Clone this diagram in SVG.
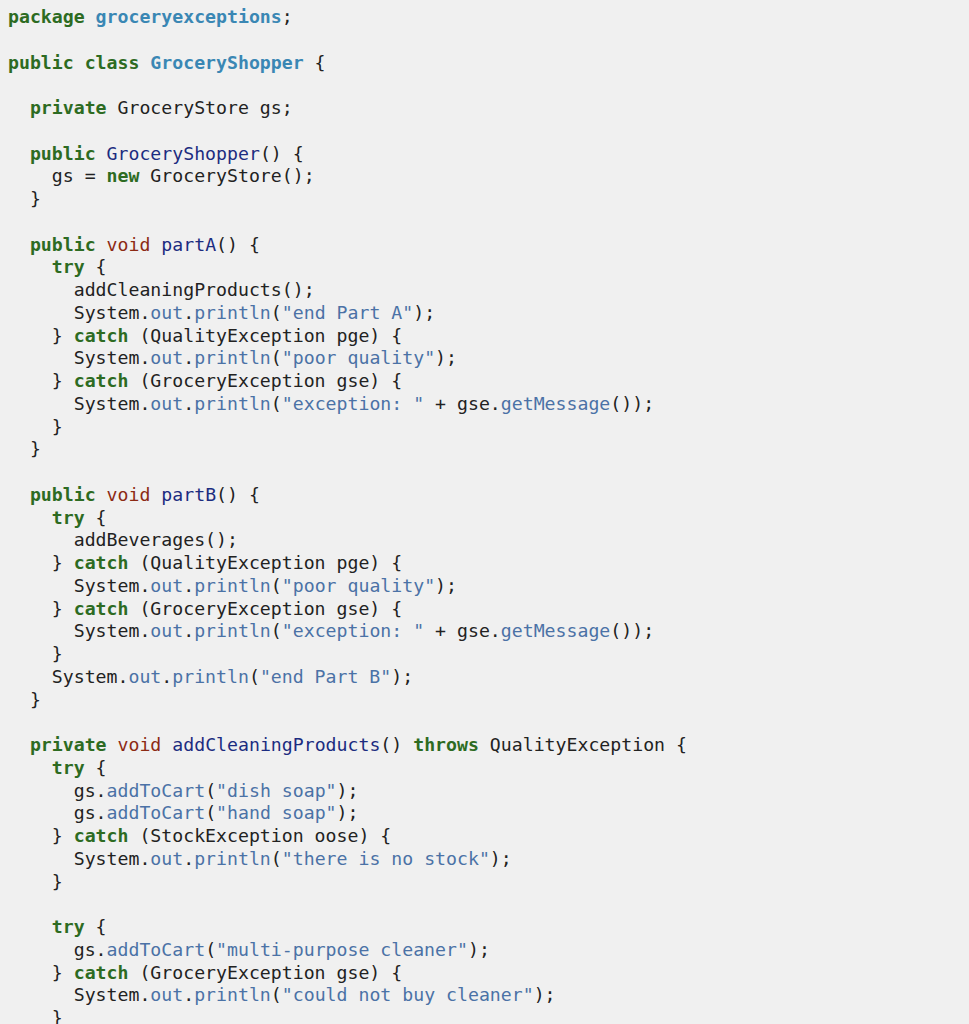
<svg xmlns="http://www.w3.org/2000/svg" width="969" height="1024" viewBox="0 0 969 1024">
<style>
text{font-family:"DejaVu Sans Mono",monospace;font-size:18.2px;fill:#222;white-space:pre}
.k{fill:#2d6b22;font-weight:bold}.c{fill:#3a87b4;font-weight:bold}.m{fill:#1c2c80}.t{fill:#8c2a14}.s{fill:#4b72a6}
</style>
<rect width="969" height="1024" fill="#f0f0f0"/>
<g id="code">
<text x="8" y="23"><tspan class="k">package</tspan> <tspan class="c">groceryexceptions</tspan>;</text>
<text x="8" y="68.5"><tspan class="k">public class</tspan> <tspan class="c">GroceryShopper</tspan> {</text>
<text x="8" y="114">  <tspan class="k">private</tspan> GroceryStore gs;</text>
<text x="8" y="159.5">  <tspan class="k">public</tspan> <tspan class="m">GroceryShopper</tspan>() {</text>
<text x="8" y="182.25">    gs = <tspan class="k">new</tspan> GroceryStore();</text>
<text x="8" y="205">  }</text>
<text x="8" y="250.5">  <tspan class="k">public</tspan> <tspan class="t">void</tspan> <tspan class="m">partA</tspan>() {</text>
<text x="8" y="273.25">    <tspan class="k">try</tspan> {</text>
<text x="8" y="296">      addCleaningProducts();</text>
<text x="8" y="318.75">      System.<tspan class="s">out</tspan>.<tspan class="s">println</tspan>(<tspan class="s">"end Part A"</tspan>);</text>
<text x="8" y="341.5">    } <tspan class="k">catch</tspan> (QualityException pge) {</text>
<text x="8" y="364.25">      System.<tspan class="s">out</tspan>.<tspan class="s">println</tspan>(<tspan class="s">"poor quality"</tspan>);</text>
<text x="8" y="387">    } <tspan class="k">catch</tspan> (GroceryException gse) {</text>
<text x="8" y="409.75">      System.<tspan class="s">out</tspan>.<tspan class="s">println</tspan>(<tspan class="s">"exception: "</tspan> + gse.<tspan class="s">getMessage</tspan>());</text>
<text x="8" y="432.5">    }</text>
<text x="8" y="455.25">  }</text>
<text x="8" y="500.75">  <tspan class="k">public</tspan> <tspan class="t">void</tspan> <tspan class="m">partB</tspan>() {</text>
<text x="8" y="523.5">    <tspan class="k">try</tspan> {</text>
<text x="8" y="546.25">      addBeverages();</text>
<text x="8" y="569">    } <tspan class="k">catch</tspan> (QualityException pge) {</text>
<text x="8" y="591.75">      System.<tspan class="s">out</tspan>.<tspan class="s">println</tspan>(<tspan class="s">"poor quality"</tspan>);</text>
<text x="8" y="614.5">    } <tspan class="k">catch</tspan> (GroceryException gse) {</text>
<text x="8" y="637.25">      System.<tspan class="s">out</tspan>.<tspan class="s">println</tspan>(<tspan class="s">"exception: "</tspan> + gse.<tspan class="s">getMessage</tspan>());</text>
<text x="8" y="660">    }</text>
<text x="8" y="682.75">    System.<tspan class="s">out</tspan>.<tspan class="s">println</tspan>(<tspan class="s">"end Part B"</tspan>);</text>
<text x="8" y="705.5">  }</text>
<text x="8" y="751">  <tspan class="k">private</tspan> <tspan class="t">void</tspan> <tspan class="m">addCleaningProducts</tspan>() <tspan class="k">throws</tspan> QualityException {</text>
<text x="8" y="773.75">    <tspan class="k">try</tspan> {</text>
<text x="8" y="796.5">      gs.<tspan class="s">addToCart</tspan>(<tspan class="s">"dish soap"</tspan>);</text>
<text x="8" y="819.25">      gs.<tspan class="s">addToCart</tspan>(<tspan class="s">"hand soap"</tspan>);</text>
<text x="8" y="842">    } <tspan class="k">catch</tspan> (StockException oose) {</text>
<text x="8" y="864.75">      System.<tspan class="s">out</tspan>.<tspan class="s">println</tspan>(<tspan class="s">"there is no stock"</tspan>);</text>
<text x="8" y="887.5">    }</text>
<text x="8" y="933">    <tspan class="k">try</tspan> {</text>
<text x="8" y="955.75">      gs.<tspan class="s">addToCart</tspan>(<tspan class="s">"multi-purpose cleaner"</tspan>);</text>
<text x="8" y="978.5">    } <tspan class="k">catch</tspan> (GroceryException gse) {</text>
<text x="8" y="1001.25">      System.<tspan class="s">out</tspan>.<tspan class="s">println</tspan>(<tspan class="s">"could not buy cleaner"</tspan>);</text>
<text x="8" y="1024">    }</text>
</g>
</svg>
